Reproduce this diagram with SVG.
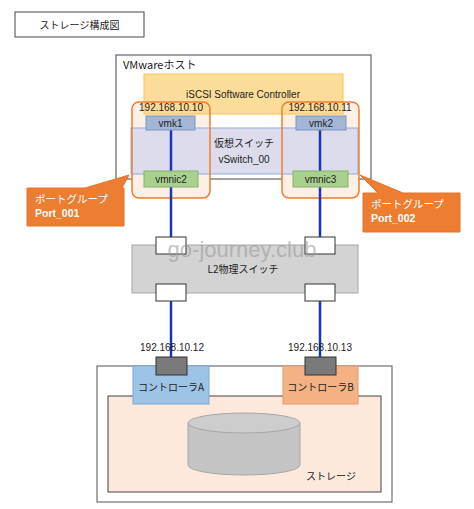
<svg xmlns="http://www.w3.org/2000/svg" width="474" height="509" viewBox="0 0 474 509">
<style>
.jp{font-family:"Noto Sans CJK JP","Noto Sans",sans-serif}
.lt{font-family:"Liberation Sans","Noto Sans",sans-serif}
.t{font-size:10px;fill:#222;text-anchor:middle}
.w{fill:#fff;font-size:10.5px}
.port{fill:#fff;stroke:#333;stroke-width:1}
.cport{fill:#7a7a7a;stroke:#333;stroke-width:1}
.link{stroke:#1c34b8;stroke-width:2.5;fill:none}
.pgf{fill:#fcefe6;stroke:none}
.pg{fill:none;stroke:#ed7d31;stroke-width:1.5}
.vmk{fill:#a3b6d6;stroke:#7f95bd;stroke-width:1}
.nic{fill:#a9d18e;stroke:#88b06c;stroke-width:1}
.call{fill:#ed7d31;stroke:#e8732a;stroke-width:1}
</style>
<rect width="474" height="509" fill="#fff"/>
<g id="title">
<rect x="15" y="12" width="129" height="25" fill="#fff" stroke="#444" stroke-width="1"/>
<text x="79.500" y="29" class="jp t" font-size="11">ストレージ構成図</text>
</g>
<g id="vmware-host">
<rect x="116" y="55" width="255" height="124" fill="#fff" stroke="#444" stroke-width="1"/>
<text x="123" y="69" class="jp" font-size="11" fill="#222">VMwareホスト</text>
</g>
<g id="port-group-fills">
<rect x="132" y="102" width="78" height="96" rx="7" class="pgf"/>
<rect x="282" y="102" width="77" height="96" rx="7" class="pgf"/>
</g>
<g id="iscsi">
<rect x="144" y="74" width="199" height="40" fill="#fcd990" fill-opacity="0.92" stroke="#f9c34a" stroke-width="1"/>
<text x="243" y="98" class="lt t" font-size="10.5">iSCSI Software Controller</text>
</g>
<g id="vswitch">
<rect x="131" y="128" width="227" height="46" fill="#dcdcec" stroke="#8faadc" stroke-width="1"/>
<text x="244" y="147" class="jp t" font-size="11">仮想スイッチ</text>
<text x="244" y="163" class="lt t" font-size="11">vSwitch_00</text>
</g>
<g id="port-group-1">
<rect x="132" y="102" width="78" height="96" rx="7" class="pg"/>
<text x="171" y="111" class="lt t">192.168.10.10</text>
</g>
<g id="port-group-2">
<rect x="282" y="102" width="77" height="96" rx="7" class="pg"/>
<text x="320" y="111" class="lt t">192.168.10.11</text>
</g>
<g id="connectors">
<line x1="171" y1="130" x2="171" y2="237" class="link"/>
<line x1="320" y1="130" x2="320" y2="237" class="link"/>
<line x1="171" y1="301" x2="171" y2="357" class="link"/>
<line x1="320" y1="301" x2="320" y2="357" class="link"/>
</g>
<g id="vmk1">
<rect x="146" y="116" width="49" height="14" class="vmk"/>
<text x="170.500" y="127" class="lt t">vmk1</text>
</g>
<g id="vmk2">
<rect x="296" y="116" width="50" height="14" class="vmk"/>
<text x="321" y="127" class="lt t">vmk2</text>
</g>
<g id="vmnic2">
<rect x="144" y="171" width="54" height="16" class="nic"/>
<text x="171" y="183" class="lt t">vmnic2</text>
</g>
<g id="vmnic3">
<rect x="293" y="171" width="55" height="16" class="nic"/>
<text x="320.500" y="183" class="lt t">vmnic3</text>
</g>
<g id="callout-port-001">
<path d="M27,188 H85 L129,175 L122,188 H124 V226 H27 Z" class="call"/>
<text x="35" y="203" class="jp w">ポートグループ</text>
<text x="35" y="217" class="lt w" font-weight="bold">Port_001</text>
</g>
<g id="callout-port-002">
<path d="M363,193 H378 L360,175 L403,193 H460 V232 H363 Z" class="call"/>
<text x="371" y="208" class="jp w">ポートグループ</text>
<text x="371" y="222" class="lt w" font-weight="bold">Port_002</text>
</g>
<g id="l2-switch">
<rect x="132" y="245" width="226" height="48" fill="#d3d3d3" stroke="#a6a6a6" stroke-width="1"/>
<text x="243" y="273" class="jp t" font-size="11">L2物理スイッチ</text>
<rect x="156" y="237" width="30" height="17" class="port"/>
<rect x="305" y="237" width="30" height="17" class="port"/>
<rect x="156" y="284" width="30" height="17" class="port"/>
<rect x="305" y="284" width="30" height="17" class="port"/>
</g>
<g id="watermark">
<text x="242" y="257" class="lt" font-size="22" fill="#9a9a9a" fill-opacity="0.6" text-anchor="middle">go-journey.club</text>
</g>
<g id="storage">
<rect x="97" y="366" width="295" height="136" fill="#fff" stroke="#555" stroke-width="1"/>
<rect x="108" y="396" width="273" height="96" fill="#fde9dc" stroke="#444" stroke-width="1"/>
<path d="M188,423 V465 A56,10 0 0 0 300,465 V423" fill="#c4c4c4" stroke="#a6a6a6" stroke-width="1"/>
<ellipse cx="244" cy="423" rx="56" ry="10" fill="#cdcdcd" stroke="#a6a6a6" stroke-width="1"/>
<text x="331" y="480" class="jp t" font-size="11.500">ストレージ</text>
</g>
<g id="controller-a">
<rect x="133" y="366" width="76" height="38" fill="#9dc3e6" stroke="#7fa8d2" stroke-width="1"/>
<text x="171" y="391" class="jp t">コントローラA</text>
<rect x="156" y="357" width="31" height="18" class="cport"/>
<text x="172" y="351" class="lt t" font-size="9">192.168.10.12</text>
</g>
<g id="controller-b">
<rect x="283" y="366" width="75" height="38" fill="#f4b183" stroke="#e39a6c" stroke-width="1"/>
<text x="320.500" y="391" class="jp t">コントローラB</text>
<rect x="305" y="357" width="31" height="18" class="cport"/>
<text x="320" y="351" class="lt t" font-size="9">192.168.10.13</text>
</g>
</svg>
